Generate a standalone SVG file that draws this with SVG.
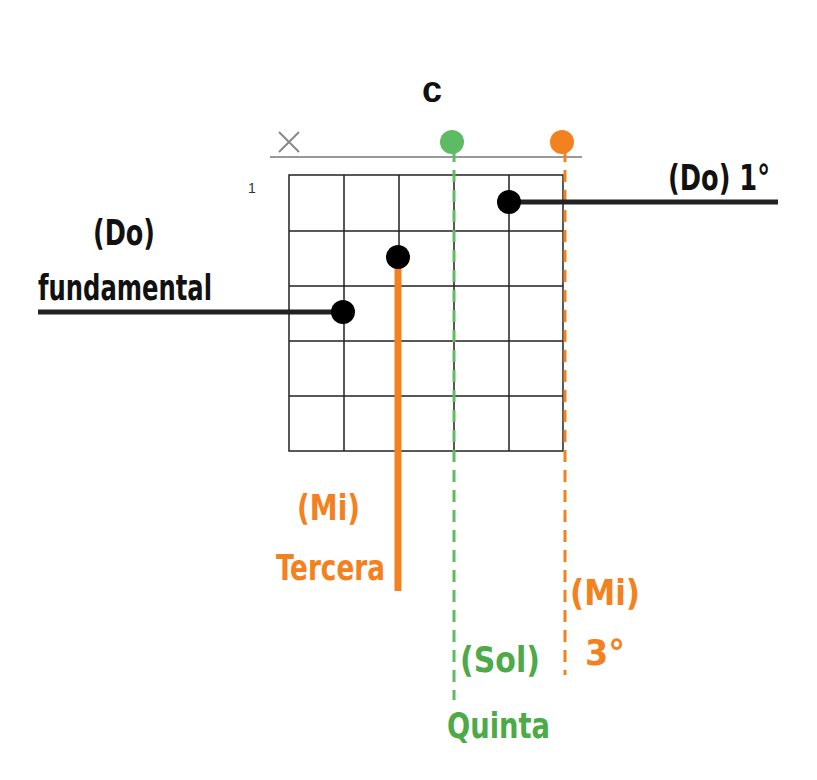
<svg xmlns="http://www.w3.org/2000/svg" width="817" height="780" viewBox="0 0 817 780">
<style>
.g{stroke:#222;stroke-width:1.5;fill:none}
.t{font-family:"DejaVu Sans Condensed","Liberation Sans",sans-serif;font-weight:bold;font-size:36px}
.o{fill:#F48120}.gr{fill:#4DAA47}.k{fill:#111}
</style>
<rect width="817" height="780" fill="#fff"/>
<g id="chart">
<text x="432" y="102" text-anchor="middle" font-family="Liberation Sans,sans-serif" font-weight="bold" font-size="36" fill="#111">c</text>
<line x1="270" y1="157" x2="582" y2="157" stroke="#999" stroke-width="2"/>
<path d="M279 132l20 20M299 132l-20 20" stroke="#888" stroke-width="2"/>
<text x="248" y="193" font-family="Liberation Sans,sans-serif" font-size="14" fill="#333">1</text>
<g class="g">
<rect x="289" y="175" width="274" height="276"/>
<path d="M344 175V451M399 175V451M454 175V451M509 175V451M289 231H563M289 286H563M289 341H563M289 396H563"/>
</g>
</g>
<g id="connectors">
<line x1="454" y1="150" x2="454" y2="700" stroke="#5DBB63" stroke-width="3" stroke-dasharray="12,8"/>
<line x1="565" y1="150" x2="565" y2="675" stroke="#F48120" stroke-width="3" stroke-dasharray="12,8"/>
<line x1="398" y1="257" x2="398" y2="591" stroke="#F48120" stroke-width="7"/>
<line x1="509" y1="202" x2="778" y2="202" stroke="#222" stroke-width="5"/>
<line x1="38" y1="312" x2="343" y2="312" stroke="#222" stroke-width="5"/>
</g>
<g id="dots">
<circle cx="452" cy="142" r="12" fill="#5DBB63"/>
<circle cx="562" cy="142" r="12" fill="#F48120"/>
<circle cx="509" cy="202" r="12" fill="#000"/>
<circle cx="398" cy="257" r="12" fill="#000"/>
<circle cx="343" cy="312" r="12" fill="#000"/>
</g>
<g id="labels" class="t">
<text class="k" x="668" y="190" textLength="102" lengthAdjust="spacingAndGlyphs">(Do) 1°</text>
<text class="k" x="93" y="245" textLength="62" lengthAdjust="spacingAndGlyphs">(Do)</text>
<text class="k" x="38" y="300" textLength="174" lengthAdjust="spacingAndGlyphs">fundamental</text>
<text class="o" x="297" y="520" textLength="63" lengthAdjust="spacingAndGlyphs">(Mi)</text>
<text class="o" x="276" y="580" textLength="109" lengthAdjust="spacingAndGlyphs">Tercera</text>
<text class="o" x="570" y="605" textLength="70" lengthAdjust="spacingAndGlyphs">(Mi)</text>
<text class="o" x="585" y="665" textLength="40" lengthAdjust="spacingAndGlyphs">3°</text>
<text class="gr" x="460" y="672" textLength="80" lengthAdjust="spacingAndGlyphs">(Sol)</text>
<text class="gr" x="447" y="738" textLength="103" lengthAdjust="spacingAndGlyphs">Quinta</text>
</g>
</svg>
